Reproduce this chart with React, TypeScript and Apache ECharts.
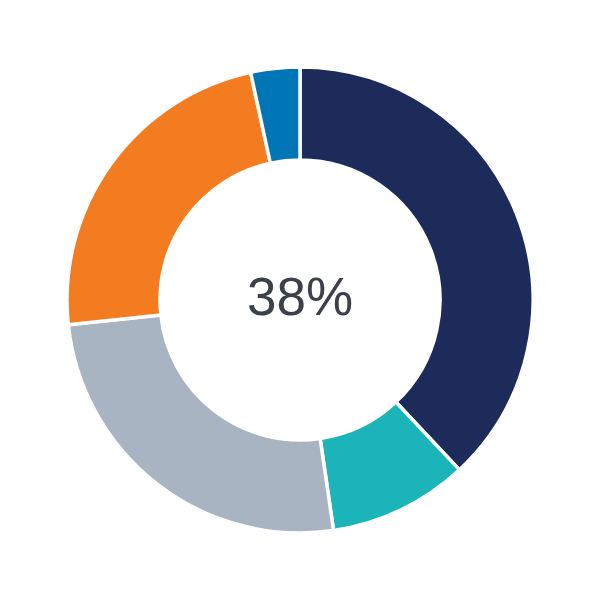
import { useEffect, useRef } from "react";
import * as echarts from "echarts";

const segmentNames = ["Navy", "Teal", "Gray", "Orange", "Blue"];
const segmentValues = [38, 9.7, 25.6, 23.3, 3.4];
const segmentColors = ["#1c2b5a", "#1bb5b9", "#a9b4c2", "#f47c20", "#0176b6"];
const centerLabel = "38%";

export default function App() {
  const chartRef = useRef<HTMLDivElement>(null);

  useEffect(() => {
    if (!chartRef.current) return;
    const chart = echarts.init(chartRef.current, undefined, { renderer: "svg" });

    const option: echarts.EChartsOption = {
      animation: false,
      backgroundColor: "#ffffff",
      graphic: [
        {
          type: "text",
          x: 300,
          y: 296,
          style: {
            text: centerLabel,
            fontFamily: "Liberation Sans, Arial, sans-serif",
            fontSize: 53,
            fill: "#3b4049",
            align: "center",
            verticalAlign: "middle",
          },
        },
      ],
      series: [
        {
          type: "pie",
          center: [300, 300],
          radius: [140, 233],
          startAngle: 90,
          clockwise: true,
          silent: true,
          label: { show: false },
          labelLine: { show: false },
          itemStyle: { borderColor: "#ffffff", borderWidth: 3.5 },
          data: segmentNames.map((name, i) => ({
            name,
            value: segmentValues[i],
            itemStyle: { color: segmentColors[i] },
          })),
        },
      ],
    };

    chart.setOption(option);
    return () => chart.dispose();
  }, []);

  return (
    <div
      ref={chartRef}
      style={{ position: "fixed", left: 0, top: 0, width: 600, height: 600 }}
    />
  );
}
